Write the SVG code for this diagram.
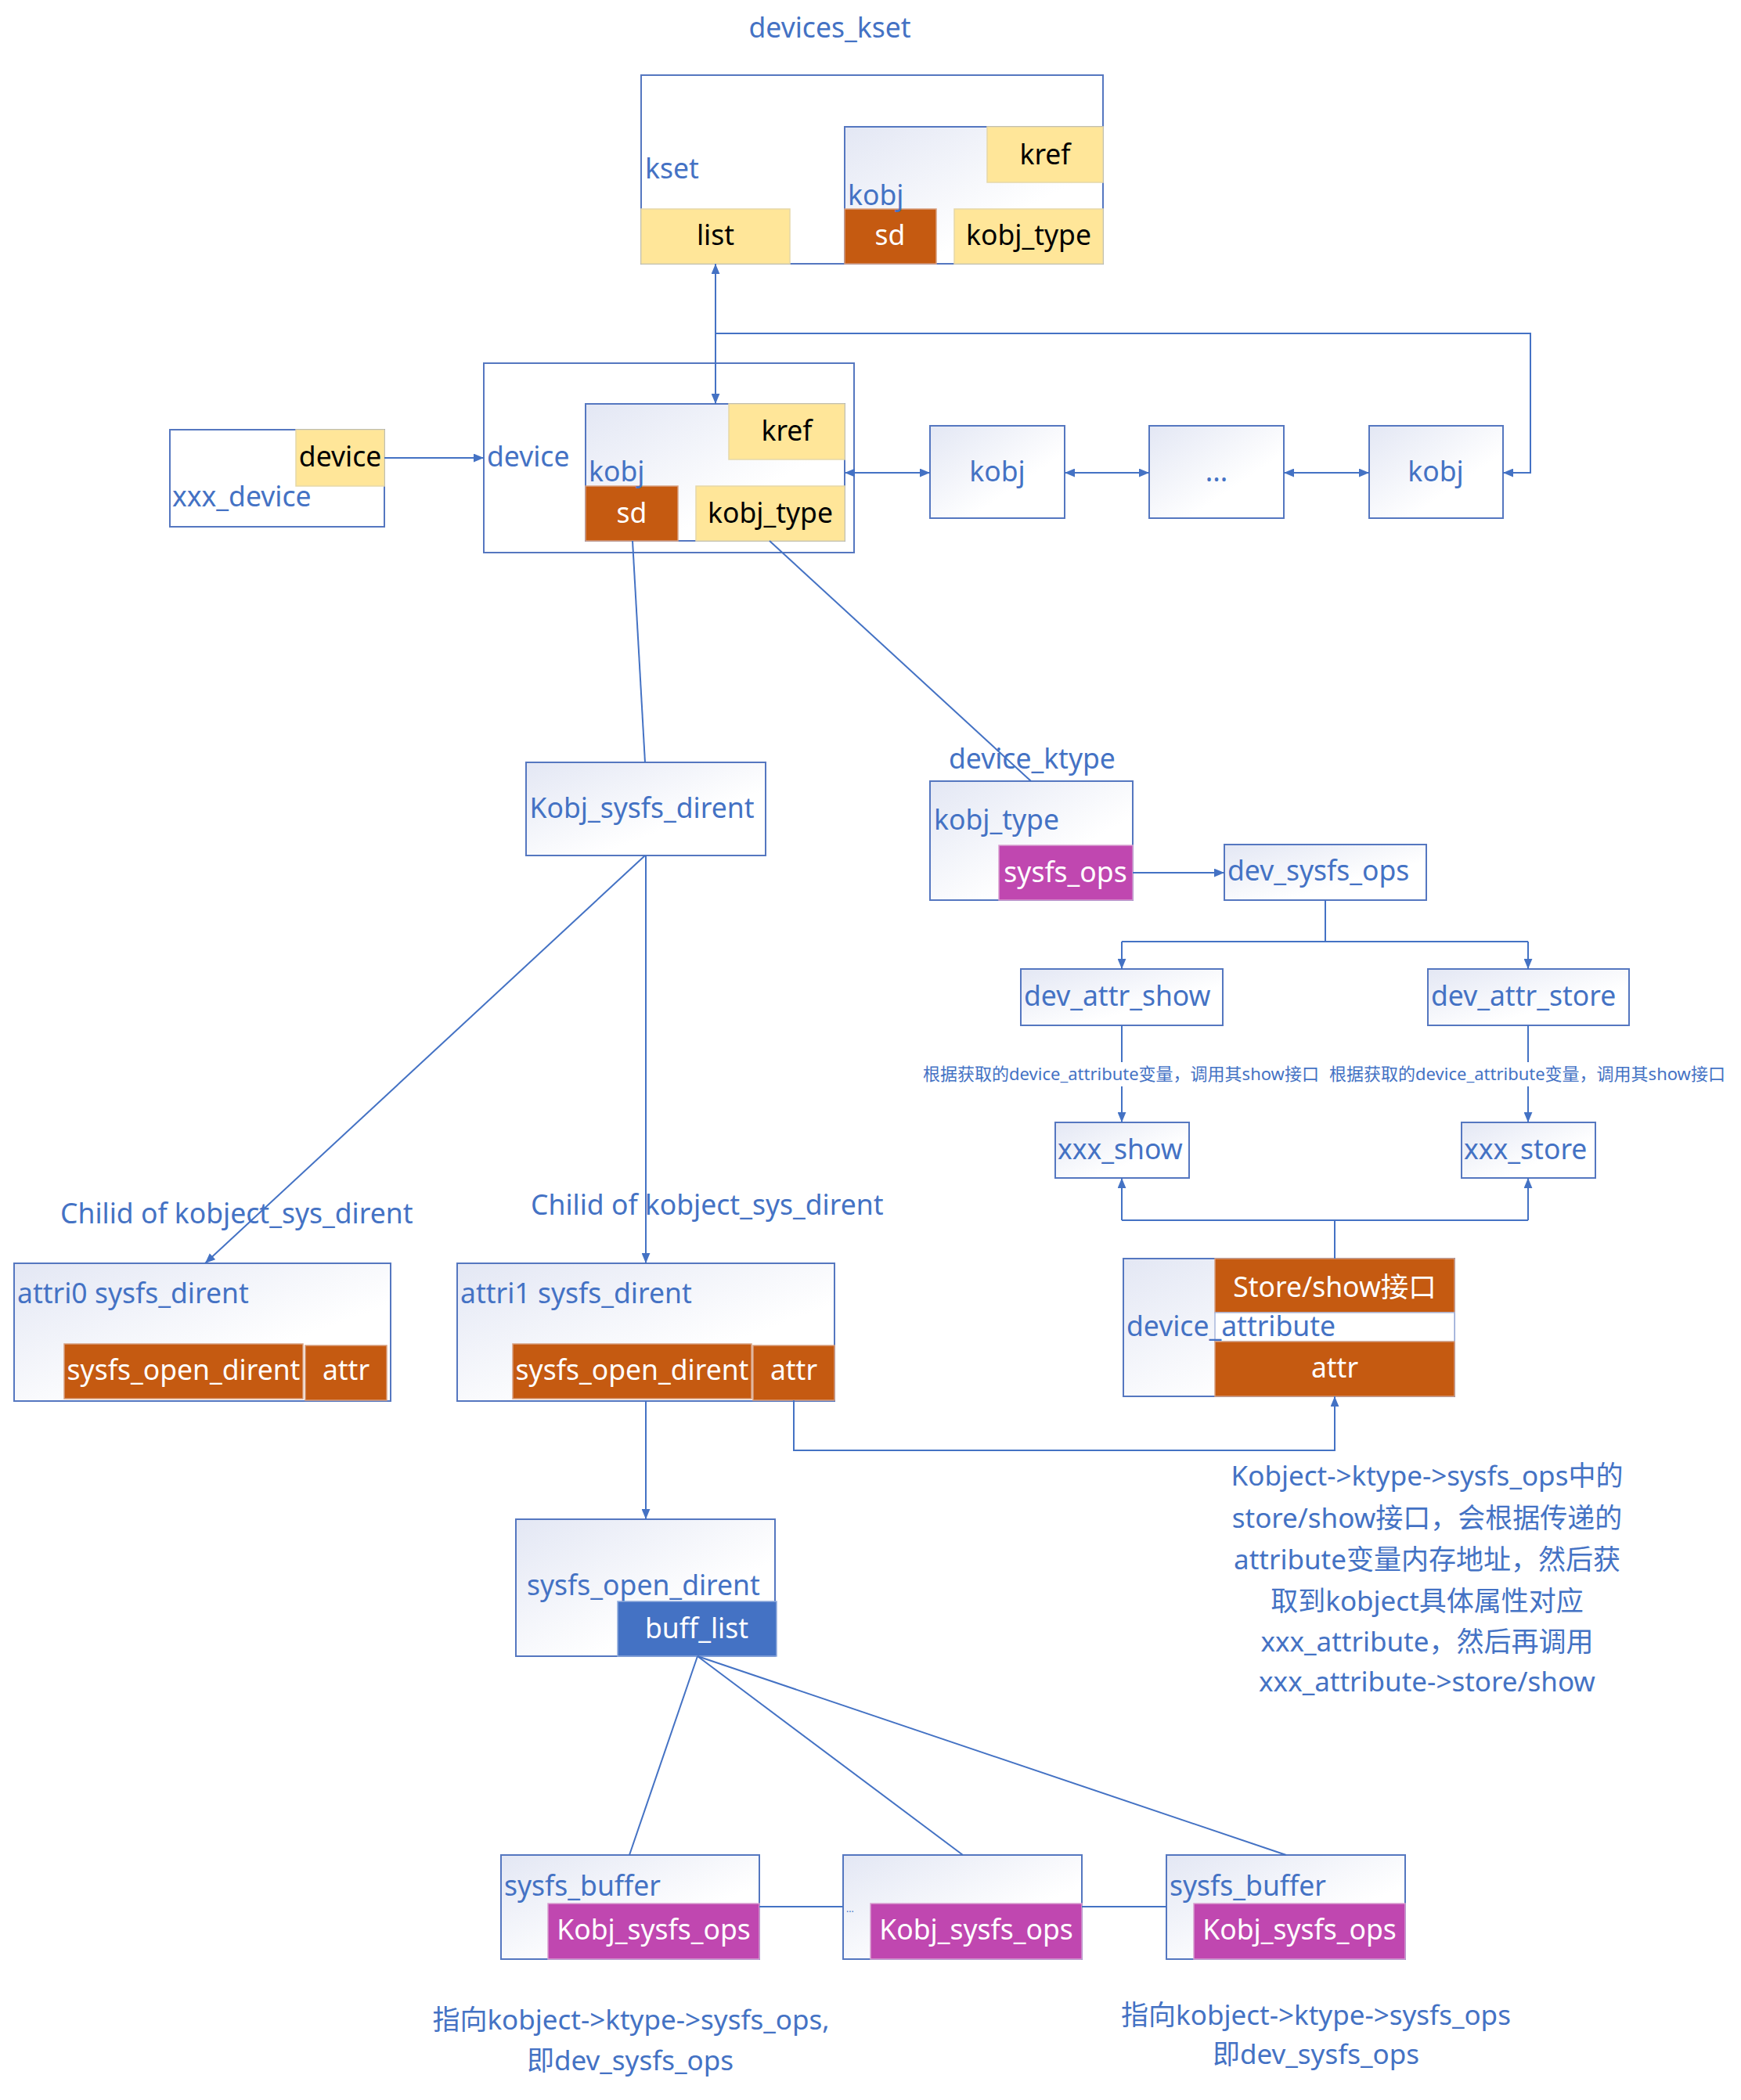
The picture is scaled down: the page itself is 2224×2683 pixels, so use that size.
<svg xmlns="http://www.w3.org/2000/svg" width="2224" height="2683" viewBox="0 0 2224 2683">
<defs>
<linearGradient id="g" x1="0" y1="0" x2="1" y2="1">
<stop offset="0" stop-color="#E3E7F4"/>
<stop offset="0.65" stop-color="#FFFFFF"/>
</linearGradient>
<marker id="a" viewBox="0 0 12 10" refX="12" refY="5" markerWidth="13" markerHeight="11" markerUnits="userSpaceOnUse" orient="auto-start-reverse">
<path d="M0,0 L12,5 L0,10 z" fill="#4472C4"/>
</marker>
</defs>
<style>
text{font-family:"Noto Sans","Noto Sans CJK SC",sans-serif;font-size:35.5px;}
.b{fill:#4472C4;}
.k{fill:#000;}
.w{fill:#fff;}
.m{text-anchor:middle;}
.box{fill:url(#g);stroke:#5577C0;stroke-width:2;}
.wb{fill:#fff;stroke:#5577C0;stroke-width:2;}
.y{fill:#FFE699;stroke:#E6D8A8;stroke-width:1.5;}
.o{fill:#C55A11;stroke:#D8A080;stroke-width:1.5;}
.p{fill:#C047B0;stroke:#D8A0D0;stroke-width:1.5;}
.bl{fill:#4472C4;stroke:#8FAADC;stroke-width:1.5;}
.c line,.c polyline{stroke:#4472C4;stroke-width:2;fill:none;}
.s{font-size:22px;}
.t text{font-size:35px;}
</style>

<text id="title" class="b m" x="1060" y="48">devices_kset</text>

<g id="kset">
<rect class="wb" x="819" y="96" width="590" height="241"/>
<rect class="box" x="1079" y="162" width="330" height="175"/>
<rect class="y" x="1261" y="162" width="148" height="71"/>
<text class="k m" x="1335" y="210">kref</text>
<rect class="y" x="819" y="267" width="190" height="70"/>
<text class="k m" x="914" y="313">list</text>
<rect class="o" x="1079" y="267" width="117" height="70"/>
<text class="w m" x="1137" y="313">sd</text>
<rect class="y" x="1219" y="267" width="190" height="70"/>
<text class="k m" x="1314" y="313">kobj_type</text>
<text class="b" x="824" y="228">kset</text>
<text class="b" x="1083" y="262">kobj</text>
</g>

<g id="xxx_device">
<rect class="wb" x="217" y="549" width="274" height="124"/>
<rect class="y" x="378" y="549" width="113" height="72"/>
<text class="k m" x="434.5" y="596">device</text>
<text class="b" x="220" y="647">xxx_device</text>
</g>

<g id="device">
<rect class="wb" x="618" y="464" width="473" height="242"/>
<rect class="box" x="748" y="516" width="331" height="175"/>
<rect class="y" x="931" y="516" width="148" height="71"/>
<text class="k m" x="1005" y="563">kref</text>
<rect class="o" x="748" y="621" width="118" height="70"/>
<text class="w m" x="807" y="668">sd</text>
<rect class="y" x="889" y="621" width="190" height="70"/>
<text class="k m" x="984" y="668">kobj_type</text>
<text class="b" x="622" y="596">device</text>
<text class="b" x="752" y="615">kobj</text>
</g>

<g id="kobj1">
<rect class="box" x="1188" y="544" width="172" height="118"/>
<text class="b m" x="1274" y="615">kobj</text>
</g>
<g id="kobj_dots">
<rect class="box" x="1468" y="544" width="172" height="118"/>
<text class="b m" x="1554" y="615">...</text>
</g>
<g id="kobj2">
<rect class="box" x="1749" y="544" width="171" height="118"/>
<text class="b m" x="1834" y="615">kobj</text>
</g>

<g id="kobj_sysfs_dirent">
<rect class="box" x="672" y="974" width="306" height="119"/>
<text class="b m" x="820" y="1045">Kobj_sysfs_dirent</text>
</g>

<g id="device_ktype">
<rect class="box" x="1188" y="998" width="259" height="152"/>
<text class="b" x="1193" y="1060">kobj_type</text>
<rect class="p" x="1276" y="1080" width="171" height="70"/>
<text class="w m" x="1361" y="1127">sysfs_ops</text>
</g>

<g id="dev_sysfs_ops">
<rect class="box" x="1564" y="1079" width="258" height="71"/>
<text class="b" x="1568" y="1125">dev_sysfs_ops</text>
</g>
<g id="dev_attr_show">
<rect class="box" x="1304" y="1238" width="258" height="72"/>
<text class="b" x="1308" y="1285">dev_attr_show</text>
</g>
<g id="dev_attr_store">
<rect class="box" x="1824" y="1238" width="257" height="72"/>
<text class="b" x="1828" y="1285">dev_attr_store</text>
</g>
<g id="xxx_show">
<rect class="box" x="1348" y="1434" width="171" height="71"/>
<text class="b" x="1351" y="1481">xxx_show</text>
</g>
<g id="xxx_store">
<rect class="box" x="1867" y="1434" width="171" height="71"/>
<text class="b" x="1870" y="1481">xxx_store</text>
</g>

<g id="device_attribute">
<rect class="box" x="1435" y="1608" width="423" height="176"/>
<rect class="o" x="1552" y="1608" width="306" height="69"/>
<text class="w m" x="1705" y="1657">Store/show接口</text>
<rect fill="#fff" stroke="#A9B8DC" stroke-width="1.5" x="1552" y="1677" width="306" height="37"/>
<rect class="o" x="1552" y="1714" width="306" height="70"/>
<text class="w m" x="1705" y="1760">attr</text>
<text class="b" x="1439" y="1707">device_attribute</text>
</g>

<g id="attri0">
<rect class="box" x="18" y="1614" width="481" height="176"/>
<text class="b" x="22" y="1665">attri0 sysfs_dirent</text>
<rect class="o" x="82" y="1717" width="305" height="70"/>
<text class="w m" x="234.5" y="1763">sysfs_open_dirent</text>
<rect class="o" x="390" y="1719" width="104" height="70"/>
<text class="w m" x="442" y="1763">attr</text>
</g>

<g id="attri1">
<rect class="box" x="584" y="1614" width="482" height="176"/>
<text class="b" x="588" y="1665">attri1 sysfs_dirent</text>
<rect class="o" x="655" y="1717" width="305" height="70"/>
<text class="w m" x="807.5" y="1763">sysfs_open_dirent</text>
<rect class="o" x="962" y="1719" width="104" height="70"/>
<text class="w m" x="1014" y="1763">attr</text>
</g>

<g id="sysfs_open_dirent">
<rect class="box" x="659" y="1941" width="331" height="175"/>
<text class="b" x="673" y="2038">sysfs_open_dirent</text>
<rect class="bl" x="789" y="2046" width="203" height="70"/>
<text class="w m" x="890" y="2093">buff_list</text>
</g>

<g id="sysfs_buffer1">
<rect class="box" x="640" y="2370" width="330" height="133"/>
<text class="b" x="644" y="2422">sysfs_buffer</text>
<rect class="p" x="700" y="2432" width="270" height="71"/>
<text class="w m" x="835" y="2478">Kobj_sysfs_ops</text>
</g>
<g id="sysfs_buffer2">
<rect class="box" x="1077" y="2370" width="305" height="133"/>
<text class="b" x="1081" y="2443" style="font-size:12px">...</text>
<rect class="p" x="1112" y="2432" width="270" height="71"/>
<text class="w m" x="1247" y="2478">Kobj_sysfs_ops</text>
</g>
<g id="sysfs_buffer3">
<rect class="box" x="1490" y="2370" width="305" height="133"/>
<text class="b" x="1494" y="2422">sysfs_buffer</text>
<rect class="p" x="1525" y="2432" width="270" height="71"/>
<text class="w m" x="1660" y="2478">Kobj_sysfs_ops</text>
</g>

<g class="c" id="connectors">
<line x1="914" y1="337" x2="914" y2="516" marker-start="url(#a)" marker-end="url(#a)"/>
<polyline points="914,426 1955,426 1955,604 1920,604" marker-end="url(#a)"/>
<line x1="491" y1="585" x2="618" y2="585" marker-end="url(#a)"/>
<line x1="1079" y1="604" x2="1188" y2="604" marker-start="url(#a)" marker-end="url(#a)"/>
<line x1="1360" y1="604" x2="1468" y2="604" marker-start="url(#a)" marker-end="url(#a)"/>
<line x1="1640" y1="604" x2="1749" y2="604" marker-start="url(#a)" marker-end="url(#a)"/>
<line x1="808" y1="691" x2="824" y2="974"/>
<line x1="983" y1="691" x2="1317" y2="998"/>
<line x1="824" y1="1093" x2="262" y2="1614" marker-end="url(#a)"/>
<line x1="825" y1="1093" x2="825" y2="1614" marker-end="url(#a)"/>
<line x1="1447" y1="1115" x2="1564" y2="1115" marker-end="url(#a)"/>
<line x1="1693" y1="1150" x2="1693" y2="1203"/>
<line x1="1433" y1="1203" x2="1952" y2="1203"/>
<line x1="1433" y1="1203" x2="1433" y2="1238" marker-end="url(#a)"/>
<line x1="1952" y1="1203" x2="1952" y2="1238" marker-end="url(#a)"/>
<line x1="1433" y1="1310" x2="1433" y2="1434" marker-end="url(#a)"/>
<line x1="1952" y1="1310" x2="1952" y2="1434" marker-end="url(#a)"/>
<line x1="1705" y1="1608" x2="1705" y2="1559"/>
<line x1="1433" y1="1559" x2="1952" y2="1559"/>
<line x1="1433" y1="1559" x2="1433" y2="1505" marker-end="url(#a)"/>
<line x1="1952" y1="1559" x2="1952" y2="1505" marker-end="url(#a)"/>
<line x1="825" y1="1790" x2="825" y2="1941" marker-end="url(#a)"/>
<polyline points="1014,1789 1014,1853 1705,1853 1705,1784" marker-end="url(#a)"/>
<line x1="891" y1="2116" x2="804" y2="2370"/>
<line x1="891" y1="2116" x2="1230" y2="2370"/>
<line x1="891" y1="2116" x2="1643" y2="2370"/>
<line x1="970" y1="2436" x2="1077" y2="2436"/>
<line x1="1382" y1="2436" x2="1490" y2="2436"/>
</g>

<g id="labels">
<text class="b" x="1212" y="982">device_ktype</text>
<text class="b" x="77" y="1563">Chilid of kobject_sys_dirent</text>
<text class="b" x="678" y="1552">Chilid of kobject_sys_dirent</text>
<rect x="1176" y="1357" width="512" height="31" fill="#fff"/>
<text class="b m s" x="1432" y="1380">根据获取的device_attribute变量，调用其show接口</text>
<rect x="1695" y="1357" width="512" height="31" fill="#fff"/>
<text class="b m s" x="1951" y="1380">根据获取的device_attribute变量，调用其show接口</text>
<g class="b m t">
<text x="1823" y="1898">Kobject-&gt;ktype-&gt;sysfs_ops中的</text>
<text x="1823" y="1952">store/show接口，会根据传递的</text>
<text x="1823" y="2005">attribute变量内存地址，然后获</text>
<text x="1823" y="2058">取到kobject具体属性对应</text>
<text x="1823" y="2110">xxx_attribute，然后再调用</text>
<text x="1823" y="2161">xxx_attribute-&gt;store/show</text>
<text x="806" y="2593">指向kobject-&gt;ktype-&gt;sysfs_ops,</text>
<text x="805" y="2645">即dev_sysfs_ops</text>
<text x="1681" y="2587">指向kobject-&gt;ktype-&gt;sysfs_ops</text>
<text x="1681" y="2637">即dev_sysfs_ops</text>
</g>
</g>
</svg>
